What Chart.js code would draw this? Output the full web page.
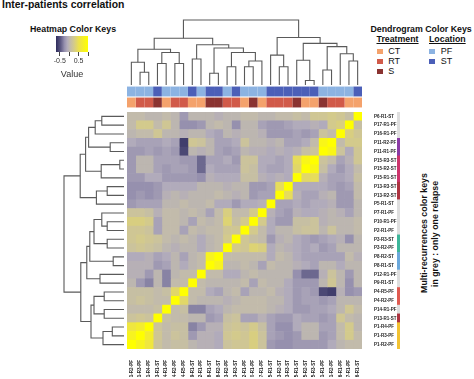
<!DOCTYPE html>
<html><head><meta charset="utf-8">
<script src="https://cdn.jsdelivr.net/npm/chart.js@4.4.0/dist/chart.umd.min.js"></script>
<style>
html,body{margin:0;padding:0;background:#fff;}
body{width:474px;height:379px;position:relative;overflow:hidden;font-family:"Liberation Sans",Arial,sans-serif;}
.abs{position:absolute;display:block;}
.t{position:absolute;white-space:nowrap;line-height:1;color:#111;}
.rot{position:absolute;white-space:nowrap;line-height:1;color:#111;font-weight:bold;font-size:8.8px;transform:translate(-50%,-50%) rotate(-90deg);}
.sq{position:absolute;width:6px;height:5px;}
</style></head><body>
<div class="t" style="left:2px;top:0.4px;font-size:10.4px;font-weight:bold;">Inter-patients correlation</div>
<div class="t" style="left:30px;top:24.9px;font-size:8.8px;font-weight:bold;">Heatmap Color Keys</div>
<div class="t" style="left:370.5px;top:24.9px;font-size:8.8px;font-weight:bold;">Dendrogram Color Keys</div>
<div class="t" style="left:376.5px;top:34.5px;font-size:8.8px;font-weight:bold;text-decoration:underline;">Treatment</div>
<div class="t" style="left:429px;top:34.5px;font-size:8.8px;font-weight:bold;text-decoration:underline;">Location</div>
<div class="rot" style="left:423.5px;top:233px;">Multi-recurrences color keys</div>
<div class="rot" style="left:434.5px;top:233.5px;">in grey : only one relapse</div>
<div id="legend"></div>

<canvas id="cTop" class="abs" width="235" height="71" style="left:127px;top:14px;"></canvas>
<canvas id="cAnn" class="abs" width="235" height="22" style="left:127px;top:86px;"></canvas>
<canvas id="cHeat" class="abs" width="275" height="265" style="left:127px;top:112px;"></canvas>
<canvas id="cLeft" class="abs" width="64" height="237" style="left:60px;top:112px;"></canvas>
<canvas id="cKey" class="abs" width="64" height="44" style="left:40px;top:36px;"></canvas>
<canvas id="cStrip" class="abs" width="3" height="237" style="left:397px;top:112px;"></canvas>

<script>
// ---------------- DATA ----------------
const rowLabels = ['P6-R1-ST','P17-R1-PF','P16-R1-PF','P11-R2-PF','P11-R1-PF','P15-R3-ST','P15-R2-ST','P15-R1-ST','P13-R3-ST','P13-R2-ST','P5-R1-ST','P7-R1-PF','P10-R1-PF','P2-R1-PF','P3-R3-ST','P3-R2-PF','P8-R2-ST','P8-R1-ST','P12-R1-PF','P9-R1-ST','P4-R5-PF','P4-R2-PF','P14-R1-PF','P13-R1-ST','P1-R4-PF','P1-R3-PF','P1-R2-PF'];
const colLabels = ['P1-R2-PF','P1-R3-PF','P1-R4-PF','P13-R1-ST','P14-R1-PF','P4-R2-PF','P4-R5-PF','P9-R1-ST','P12-R1-PF','P8-R1-ST','P8-R2-ST','P3-R2-PF','P3-R3-ST','P2-R1-PF','P10-R1-PF','P7-R1-PF','P5-R1-ST','P13-R2-ST','P13-R3-ST','P15-R1-ST','P15-R2-ST','P15-R3-ST','P11-R1-PF','P11-R2-PF','P16-R1-PF','P17-R1-PF','P6-R1-ST'];

// column annotations
const colTreatment = ['CT','RT','RT','S','CT','RT','RT','CT','CT','S','S','RT','RT','CT','S','CT','RT','RT','RT','S','CT','CT','S','RT','RT','CT','CT'];
const colLocation  = ['PF','PF','PF','ST','PF','PF','PF','ST','PF','ST','ST','PF','ST','PF','PF','PF','ST','ST','ST','ST','ST','ST','PF','PF','PF','PF','ST'];
const treatmentLevels = ['CT','RT','S'];
const treatmentColors = ['#f4a26c','#d15a49','#8a3331'];
const locationLevels = ['PF','ST'];
const locationColors = ['#8cb3e2','#4b5fb8'];

// multi-recurrence groups per row (top to bottom)
const rowGroup = ['single','single','single','P11','P11','P15','P15','P15','P13','P13','single','single','single','single','P3','P3','P8','P8','single','single','P4','P4','single','P13','P1','P1','P1'];
const groupNames  = ['single','P11','P15','P13','P3','P8','P4','P1'];
const groupColors = ['#dedede','#8b3ba6','#cd346c','#ad3340','#3db69a','#6ba8dc','#e05a50','#f2c232'];

// correlation values, upper-left triangle of the displayed grid (row r, columns 0..25-r)
const heatRows = [
 [0.05,0.05,0.0,0.0,0.05,0.0,-0.2,0.0,0.0,0.0,-0.05,0.0,0.0,0.05,0.05,0.0,0.0,0.05,0.05,0.1,0.05,0.2,0.2,0.25,0.2,0.1],
 [0.05,0.25,0.25,0.05,0.2,0.0,-0.25,-0.25,-0.2,0.0,0.05,0.0,-0.25,0.0,0.0,-0.15,-0.2,-0.2,-0.15,-0.1,-0.1,-0.05,-0.1,0.25,0.3],
 [0.0,0.05,0.05,0.2,0.0,0.0,-0.05,0.0,0.0,-0.1,-0.15,0.0,-0.05,0.0,0.0,-0.05,-0.2,-0.2,-0.2,-0.15,-0.2,-0.15,0.15,0.05],
 [-0.1,-0.15,-0.15,-0.15,-0.1,-0.15,-0.6,0.2,0.15,0.0,-0.15,-0.15,-0.1,0.15,0.0,0.0,-0.05,0.0,-0.15,-0.15,-0.1,0.05,0.85],
 [-0.2,-0.2,-0.15,-0.2,-0.15,-0.2,-0.55,0.0,-0.05,0.0,-0.15,-0.2,-0.15,0.0,-0.05,-0.05,-0.1,-0.05,-0.1,-0.05,0.1,0.15],
 [-0.2,0.0,0.0,-0.15,-0.15,-0.15,-0.2,-0.2,-0.4,-0.15,-0.15,-0.1,-0.2,0.15,0.15,-0.1,-0.1,-0.15,-0.1,0.45,0.85],
 [-0.2,0.0,0.0,-0.15,-0.2,-0.15,-0.15,-0.2,-0.4,-0.1,-0.15,-0.15,-0.15,0.15,0.1,-0.1,-0.15,-0.15,-0.1,0.4],
 [-0.2,-0.2,-0.1,-0.1,-0.2,-0.2,-0.2,-0.2,-0.25,-0.05,-0.1,-0.1,-0.1,0.1,0.1,-0.05,-0.1,-0.05,-0.1],
 [-0.25,-0.25,-0.25,-0.2,-0.1,-0.1,-0.1,-0.1,0.0,0.0,0.0,-0.05,0.0,0.0,-0.2,-0.2,-0.15,0.45],
 [-0.25,-0.2,-0.25,-0.2,-0.05,0.0,-0.05,0.0,0.0,0.0,0.05,0.0,-0.05,0.0,-0.2,-0.15,-0.15],
 [-0.2,-0.15,-0.15,-0.15,0.0,0.0,0.05,0.0,0.0,0.05,-0.1,-0.1,-0.2,-0.1,-0.1,-0.05],
 [0.15,0.15,0.1,-0.05,0.05,0.05,0.0,0.05,0.0,-0.15,0.05,0.3,0.05,0.05,0.25],
 [0.3,0.3,0.25,-0.15,0.05,0.05,0.0,-0.15,0.05,0.0,0.05,0.35,0.1,0.25],
 [0.2,0.2,0.15,-0.15,0.05,0.05,-0.15,0.05,0.0,0.05,0.05,0.2,0.2],
 [0.2,0.25,0.2,0.15,0.05,0.0,0.05,0.0,-0.1,0.0,0.05,0.25],
 [0.15,0.2,0.15,0.1,0.0,-0.05,0.0,0.0,-0.1,0.0,0.05],
 [-0.1,-0.1,-0.05,-0.15,-0.1,0.0,-0.15,0.0,0.05,0.8],
 [-0.05,-0.05,-0.05,-0.2,-0.15,0.0,-0.1,0.0,0.05],
 [-0.05,-0.05,-0.2,0.0,-0.3,0.0,0.05,0.05],
 [0.0,-0.2,-0.3,0.0,-0.3,0.05,0.05],
 [0.1,0.1,0.1,0.05,0.1,0.4],
 [0.1,0.15,0.1,0.05,0.05],
 [0.05,0.05,0.05,0.1],
 [0.15,0.2,0.15],
 [0.6,0.7],
 [0.8]
];
const selfCorr = 1.0;

// dendrogram (hclust-style, on column order): negative = leaf column (1-based), positive = earlier merge
const mergeLeft   = [-21,-10,-2,-23,-18,-12,-14,-4,-6,-1,7,-26,-20,-8,-17,-25,6,8,10,2,4,14,13,19,15,24];
const mergeRight  = [-22,-11,-3,-24,-19,-13,-15,-5,-7,3,-16,-27,1,-9,5,12,11,9,18,17,16,20,21,22,23,25];
const mergeHeight = [0.07,0.18,0.195,0.23,0.28,0.28,0.28,0.33,0.33,0.35,0.37,0.37,0.38,0.40,0.46,0.48,0.50,0.50,0.55,0.57,0.59,0.62,0.64,0.72,0.73,1.0];

// colour key
const keyMin = -0.7, keyMax = 1.0;
const keyTicks = [-0.5, 0, 0.5, 1];
const keyTickLabels = ['-0.5', '', '0.5', ''];
const colorStopValues = [-0.7,-0.45,-0.25,-0.1,0.05,0.25,0.5,1.0];
const colorStopColors = ['#2e2c5c','#5e5a84','#9690ae','#b1abbb','#c2bbab','#d3ca8c','#ebe050','#ffff00'];

// ---------------- HELPERS ----------------
Chart.defaults.font.family = "'Liberation Sans', Arial, sans-serif";
Chart.defaults.animation = false;
const noPlug = {legend:{display:false}, tooltip:{enabled:false}, title:{display:false}};
const N = colLabels.length;

function hexRgb(h){ return [parseInt(h.slice(1,3),16),parseInt(h.slice(3,5),16),parseInt(h.slice(5,7),16)]; }
function heatColor(v){
  const sv = colorStopValues, sc = colorStopColors.map(hexRgb);
  if (v <= sv[0]) return 'rgb(' + sc[0].join(',') + ')';
  for (let i = 0; i < sv.length - 1; i++) {
    if (v <= sv[i+1]) {
      const t = (v - sv[i]) / (sv[i+1] - sv[i]);
      const c = sc[i].map((a, k) => Math.round(a + (sc[i+1][k] - a) * t));
      return 'rgb(' + c.join(',') + ')';
    }
  }
  return 'rgb(' + sc[sc.length-1].join(',') + ')';
}
function cellValue(r, c){
  if (r + c === N - 1) return selfCorr;
  if (r + c < N - 1) return heatRows[r][c];
  return heatRows[N - 1 - c][N - 1 - r];
}

// ---------------- HEATMAP ----------------
const heatDatasets = colLabels.map((lab, c) => ({
  label: lab,
  data: rowLabels.map(() => 1),
  backgroundColor: rowLabels.map((_, r) => heatColor(cellValue(r, c))),
  borderWidth: 0,
  barPercentage: 1, categoryPercentage: 1,
  xAxisID: 'x', yAxisID: 'y'
}));
new Chart(document.getElementById('cHeat'), {
  type: 'bar',
  data: { labels: rowLabels, datasets: heatDatasets },
  options: {
    responsive: false, indexAxis: 'y', animation: false,
    layout: { padding: 0 },
    plugins: noPlug,
    scales: {
      x: { type: 'linear', stacked: true, min: 0, max: N, display: false },
      y: { type: 'category', stacked: true, position: 'right', offset: true,
           grid: { display: false }, border: { display: false },
           ticks: { autoSkip: false, padding: 4, color: '#222', font: { size: 4.5, weight: 'bold' } },
           afterFit: s => { s.width = 40; s.paddingTop = 0; s.paddingBottom = 0; } },
      xc: { type: 'category', labels: colLabels, position: 'bottom', offset: true,
            grid: { display: false }, border: { display: false },
            ticks: { autoSkip: false, minRotation: 90, maxRotation: 90, padding: 3, color: '#222', font: { size: 4.6, weight: 'bold' } },
            afterFit: s => { s.height = 28; s.paddingLeft = 0; s.paddingRight = 0; } }
    }
  }
});

// ---------------- COLUMN ANNOTATIONS ----------------
new Chart(document.getElementById('cAnn'), {
  type: 'bar',
  data: { labels: ['Location', 'Treatment'],
    datasets: colLabels.map((lab, c) => ({
      label: lab, data: [1, 1],
      backgroundColor: [locationColors[locationLevels.indexOf(colLocation[c])], treatmentColors[treatmentLevels.indexOf(colTreatment[c])]],
      borderWidth: 0, barPercentage: 0.9, categoryPercentage: 1
    })) },
  options: { responsive: false, indexAxis: 'y', plugins: noPlug, layout: { padding: 0 },
    scales: { x: { stacked: true, min: 0, max: N, display: false }, y: { stacked: true, display: false } } }
});

// ---------------- DENDROGRAMS ----------------
function buildTree(){
  const pos = [], hgt = [], segs = [];
  const nodePos = id => id < 0 ? -id - 1 : pos[id - 1];
  const nodeH = id => id < 0 ? 0 : hgt[id - 1];
  for (let k = 0; k < mergeHeight.length; k++) {
    const a = mergeLeft[k], b = mergeRight[k], h = mergeHeight[k];
    const xa = nodePos(a), xb = nodePos(b);
    segs.push([[xa, nodeH(a)], [xa, h], [xb, h], [xb, nodeH(b)]]);
    pos.push((xa + xb) / 2); hgt.push(h);
  }
  return segs;
}
const treeSegs = buildTree();
const dendroStyle = { showLine: true, pointRadius: 0, borderColor: '#5a5a5a', borderWidth: 1.1, fill: false, tension: 0 };

new Chart(document.getElementById('cTop'), {
  type: 'scatter',
  data: { datasets: treeSegs.map(s => Object.assign({ data: s.map(([p, h]) => ({ x: p, y: h })) }, dendroStyle)) },
  options: { responsive: false, plugins: noPlug, layout: { padding: 0 },
    scales: { x: { type: 'linear', min: -0.5, max: N - 0.5, display: false },
              y: { type: 'linear', min: 0, max: 1.092, display: false } } }
});
new Chart(document.getElementById('cLeft'), {
  type: 'scatter',
  data: { datasets: treeSegs.map(s => Object.assign({ data: s.map(([p, h]) => ({ x: h, y: N - 1 - p })) }, dendroStyle)) },
  options: { responsive: false, plugins: noPlug, layout: { padding: 0 },
    scales: { x: { type: 'linear', min: 0, max: 1.0667, reverse: true, display: false },
              y: { type: 'linear', min: -0.5, max: N - 0.5, reverse: true, display: false } } }
});

// ---------------- COLOUR KEY ----------------
new Chart(document.getElementById('cKey'), {
  type: 'bar',
  data: { labels: ['Value'], datasets: [{
    data: [[keyMin, keyMax]], borderWidth: 0, barPercentage: 1, categoryPercentage: 1,
    backgroundColor: ctx => {
      const ch = ctx.chart; if (!ch.chartArea) return '#ccc';
      const xs = ch.scales.x;
      const g = ch.ctx.createLinearGradient(xs.getPixelForValue(keyMin), 0, xs.getPixelForValue(keyMax), 0);
      colorStopValues.forEach((v, i) => g.addColorStop((v - keyMin) / (keyMax - keyMin), colorStopColors[i]));
      return g;
    } }] },
  options: { responsive: false, indexAxis: 'y', plugins: noPlug,
    layout: { padding: { left: 16, right: 16, top: 0, bottom: 0 } },
    scales: {
      x: { type: 'linear', min: keyMin, max: keyMax, position: 'bottom',
           afterBuildTicks: s => { s.ticks = keyTicks.map(v => ({ value: v })); },
           ticks: { callback: (v, i) => keyTickLabels[i], padding: 1, color: '#333', font: { size: 7 }, autoSkip: false, maxRotation: 0 },
           grid: { display: true, drawOnChartArea: false, drawTicks: true, tickLength: 4, color: '#444' },
           border: { display: false },
           title: { display: true, text: 'Value', color: '#333', font: { size: 9 }, padding: 0 },
           afterFit: s => { s.height = 28; s.paddingLeft = 0; s.paddingRight = 0; } },
      y: { display: false }
    } }
});

// ---------------- MULTI-RECURRENCE STRIP ----------------
new Chart(document.getElementById('cStrip'), {
  type: 'bar',
  data: { labels: rowLabels, datasets: [{ data: rowLabels.map(() => 1),
    backgroundColor: rowGroup.map(g => groupColors[groupNames.indexOf(g)]),
    borderWidth: 0, barPercentage: 1, categoryPercentage: 1 }] },
  options: { responsive: false, indexAxis: 'y', plugins: noPlug, layout: { padding: 0 },
    scales: { x: { min: 0, max: 1, display: false }, y: { display: false } } }
});

// ---------------- LEGEND (HTML) ----------------
const leg = document.getElementById('legend');
function addItem(x, y, color, text){
  const s = document.createElement('div'); s.className = 'sq';
  s.style.left = x + 'px'; s.style.top = y + 'px'; s.style.background = color; leg.appendChild(s);
  const t = document.createElement('div'); t.className = 't';
  t.style.left = (x + 11.5) + 'px'; t.style.top = (y - 2) + 'px'; t.style.fontSize = '9px'; t.textContent = text;
  leg.appendChild(t);
}
treatmentLevels.forEach((l, i) => addItem(376.7, 49.3 + 9.85 * i, treatmentColors[i], l));
locationLevels.forEach((l, i) => addItem(429.3, 49.3 + 9.85 * i, locationColors[i], l));
</script>
</body></html>
